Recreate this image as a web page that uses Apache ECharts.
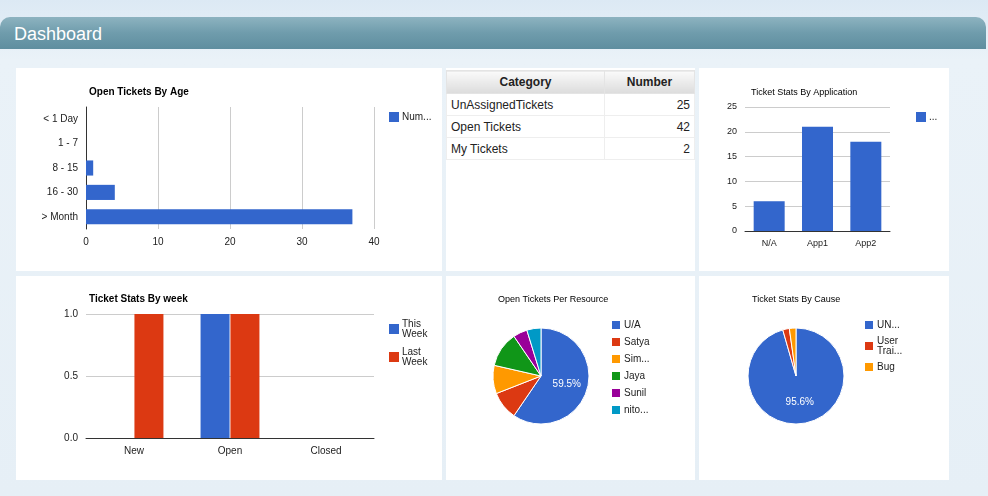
<!DOCTYPE html>
<html><head><meta charset="utf-8">
<script src="https://cdn.jsdelivr.net/npm/echarts@6/dist/echarts.min.js"></script>
<style>
body{margin:0;width:988px;height:496px;overflow:hidden;background:linear-gradient(#dce9f4,#eaf2f8 60px,#e6eff6);font-family:"Liberation Sans",Arial,sans-serif;position:relative}
#hdr{position:absolute;left:0;top:17px;width:986px;height:32px;border-radius:10px 10px 0 0;background:linear-gradient(#8db3c0,#6f9cac 50%,#5f8e9f);color:#fff;font-size:18px;line-height:34px;padding-left:14px;box-sizing:border-box}
.p{position:absolute;background:#fff}
#tbl{position:absolute;left:446px;top:70px;width:249px;border-collapse:collapse;font-size:12px;color:#222}
#tbl th{height:20px;background:linear-gradient(#fafafa,#dcdcdc);font-weight:bold;border:1px solid #e4e4e4}
#tbl td{height:21px;border:1px solid #eee;padding:0 4px}
#c{position:absolute;left:0;top:0;width:988px;height:496px}
</style></head><body>
<div id="hdr">Dashboard</div>
<div class="p" style="left:16px;top:68px;width:426px;height:203px"></div>
<div class="p" style="left:446px;top:68px;width:249px;height:203px"></div>
<div class="p" style="left:699px;top:68px;width:250px;height:203px"></div>
<div class="p" style="left:16px;top:276px;width:426px;height:204px"></div>
<div class="p" style="left:446px;top:276px;width:249px;height:204px"></div>
<div class="p" style="left:699px;top:276px;width:250px;height:204px"></div>
<table id="tbl"></table>
<div id="c"></div>
<script>
const ageCategories=['< 1 Day','1 - 7','8 - 15','16 - 30','> Month'];
const ageValues=[0,0,1,4,37];
const tableCategories=['UnAssignedTickets','Open Tickets','My Tickets'];
const tableNumbers=[25,42,2];
const appCategories=['N/A','App1','App2'];
const appValues=[6,21,18];
const weekCategories=['New','Open','Closed'];
const thisWeek=[0,1,0];
const lastWeek=[1,1,0];
const resourceNames=['U/A','Satya','Sim...','Jaya','Sunil','nito...'];
const resourceValues=[25,4,4,5,2,2];
const causeNames=['UN...','User\nTrai...','Bug'];
const causeValues=[43,1,1];

let h='<tr><th style="width:155px">Category</th><th>Number</th></tr>';
tableCategories.forEach((c,i)=>{h+=`<tr><td>${c}</td><td style="text-align:right">${tableNumbers[i]}</td></tr>`;});
document.getElementById('tbl').innerHTML=h;

const F='"Liberation Sans",Arial,sans-serif';
const blue='#3366cc',red='#dc3912';
const pal=[blue,red,'#ff9900','#109618','#990099','#0099c6'];
const ts={fontSize:10,color:'#222',fontFamily:F};
const titleS={fontSize:10,fontWeight:'bold',color:'#000',fontFamily:F};
const grid=(l,t,w,h)=>({left:l,top:t,width:w,height:h});
const lg=(l,t,data,extra)=>Object.assign({left:l,top:t,orient:'vertical',itemWidth:10,itemHeight:10,itemGap:6,icon:'rect',textStyle:{fontSize:10,color:'#222',fontFamily:F,padding:[0,0,0,-2]},data:data,selectedMode:false},extra||{});
const gl={lineStyle:{color:'#ccc'}};
const chart=echarts.init(document.getElementById('c'));
chart.setOption({
 color:pal,animation:false,
 title:[
  {text:'Open Tickets By Age',left:84,top:82,textStyle:titleS},
  {text:'Ticket Stats By Application',left:746,top:83,textStyle:Object.assign({},titleS,{fontWeight:'normal',fontSize:9})},
  {text:'Ticket Stats By week',left:84,top:289,textStyle:titleS},
  {text:'Open Tickets Per Resource',left:493,top:290,textStyle:Object.assign({},titleS,{fontWeight:'normal',fontSize:9})},
  {text:'Ticket Stats By Cause',left:747,top:290,textStyle:Object.assign({},titleS,{fontWeight:'normal',fontSize:9})}
 ],
 legend:[
  lg(384,107,['Num...']),
  lg(911,107,['...']),
  lg(384,314,['This\nWeek','Last\nWeek'],{itemGap:8}),
  lg(605,314,resourceNames,{itemGap:5}),
  lg(858,314,causeNames,{itemGap:5})
 ],
 grid:[grid(86,107,288,122),grid(745,107,145,124),grid(86,314,288,124)],
 xAxis:[
  {gridIndex:0,type:'value',min:0,max:40,interval:10,axisLabel:ts,splitLine:gl,axisLine:{show:false},axisTick:{show:false}},
  {gridIndex:1,type:'category',data:appCategories,axisLabel:Object.assign({},ts,{fontSize:9}),axisLine:{lineStyle:{color:'#333'}},axisTick:{show:false}},
  {gridIndex:2,type:'category',data:weekCategories,axisLabel:ts,axisLine:{lineStyle:{color:'#333'}},axisTick:{show:false}}
 ],
 yAxis:[
  {gridIndex:0,type:'category',inverse:true,data:ageCategories,axisLabel:ts,axisLine:{lineStyle:{color:'#333'}},axisTick:{show:false}},
  {gridIndex:1,type:'value',min:0,max:25,interval:5,axisLabel:Object.assign({},ts,{fontSize:9}),splitLine:gl,axisLine:{show:false},axisTick:{show:false}},
  {gridIndex:2,type:'value',min:0,max:1,interval:0.5,axisLabel:Object.assign({},ts,{formatter:v=>v.toFixed(1)}),splitLine:gl,axisLine:{show:false},axisTick:{show:false}}
 ],
 series:[
  {name:'Num...',type:'bar',xAxisIndex:0,yAxisIndex:0,data:ageValues,color:blue,barCategoryGap:'38%'},
  {name:'...',type:'bar',xAxisIndex:1,yAxisIndex:1,data:appValues,color:blue,barWidth:31},
  {name:'This\nWeek',type:'bar',xAxisIndex:2,yAxisIndex:2,data:thisWeek,color:blue,barWidth:29,barGap:'3%'},
  {name:'Last\nWeek',type:'bar',xAxisIndex:2,yAxisIndex:2,data:lastWeek,color:red,barWidth:29,barGap:'3%'},
  {type:'pie',center:[541,376],radius:48,itemStyle:{borderColor:'#fff',borderWidth:1},labelLine:{show:false},
   label:{show:true,position:'inside',color:'#fff',fontSize:10,fontFamily:F,formatter:p=>p.dataIndex===0?p.percent.toFixed(1)+'%':''},
   data:resourceNames.map((n,i)=>({name:n,value:resourceValues[i]}))},
  {type:'pie',center:[796,376],radius:48,itemStyle:{borderColor:'#fff',borderWidth:1},labelLine:{show:false},color:pal,
   label:{show:true,position:'inside',color:'#fff',fontSize:10,fontFamily:F,formatter:p=>p.dataIndex===0?p.percent.toFixed(1)+'%':''},
   data:causeNames.map((n,i)=>({name:n,value:causeValues[i]}))}
 ]
});
</script></body></html>
